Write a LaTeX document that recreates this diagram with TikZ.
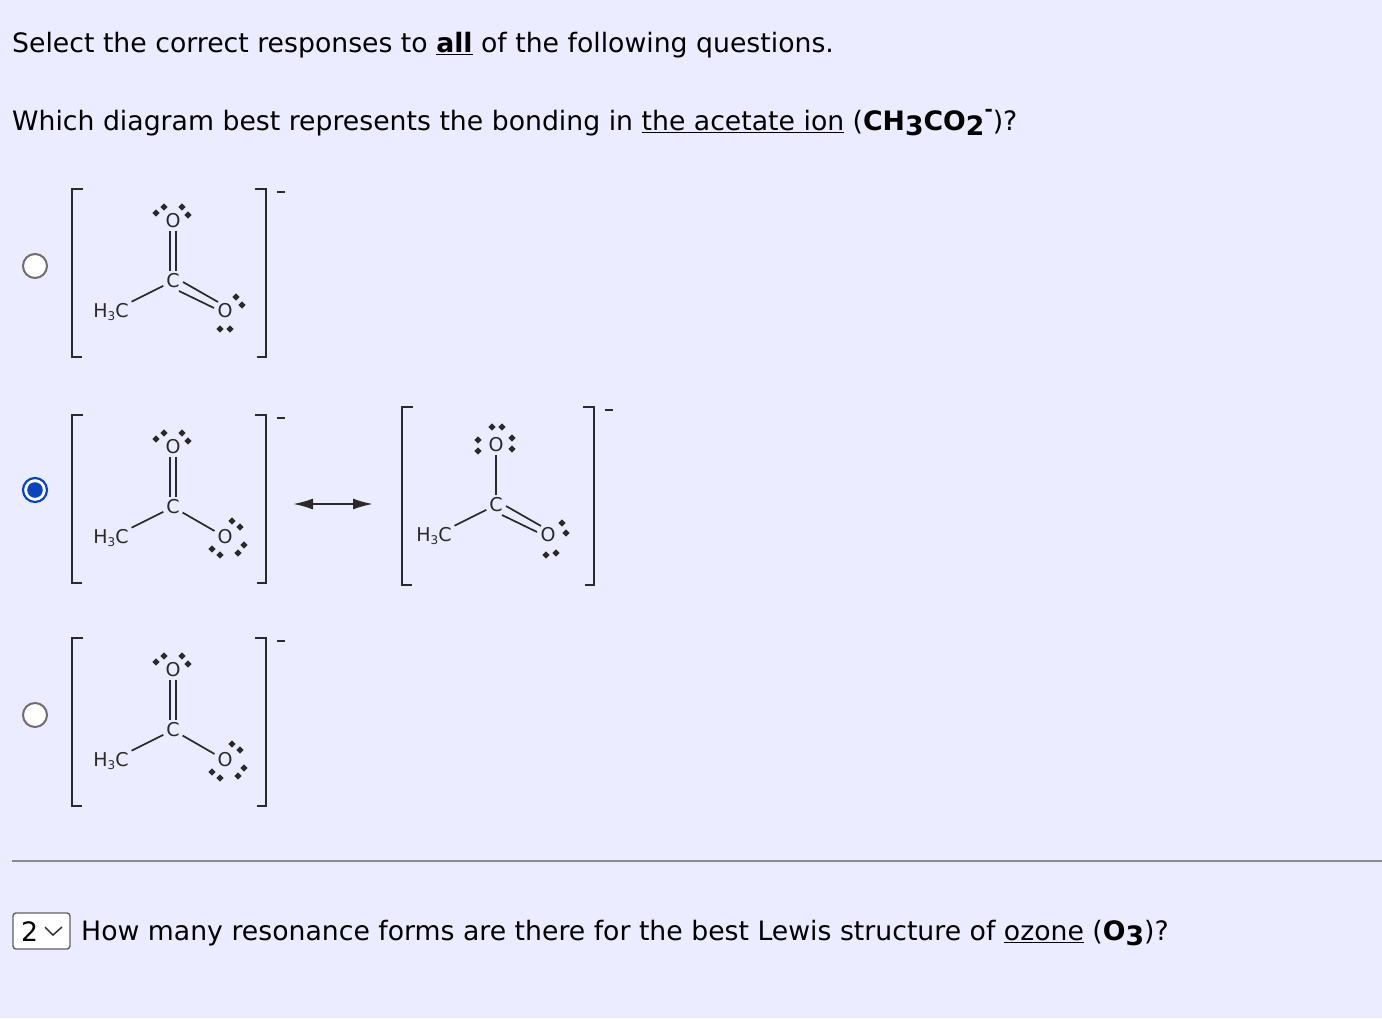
\documentclass[tikz,border=0pt]{standalone}
\usepackage{fontspec}
\setmainfont{DejaVu Sans}
\usetikzlibrary{arrows.meta}

\definecolor{pagebg}{HTML}{EBECFF}
\definecolor{inkgray}{HTML}{2A2A2A}
\definecolor{rulegray}{HTML}{8A8A8A}
\definecolor{radioblue}{HTML}{0B45B8}

\tikzset{
    x=1pt, y=-1pt,
    prose/.style={anchor=base west, inner sep=0pt, font=\fontsize{26.7}{32}\selectfont, text=black},
    atom/.style={inner sep=0pt, outer sep=3pt, font=\fontsize{19}{22}\selectfont, text=inkgray},
    bond/.style={draw=inkgray, line width=1.7pt},
    bracket/.style={draw=inkgray, line width=2.2pt},
    radio/.style={draw=rulegray!80!black, line width=2pt, fill=white},
}

\newcommand{\lowered}[1]{\raisebox{-0.22em}{#1}}
\newcommand{\methyl}{H\raisebox{-0.2em}{\fontsize{12}{12}\selectfont 3}C}

% brackets and charge: left x, right x, top y, bottom y
\newcommand{\anionbrackets}[4]{
    \draw[bracket] (#1+11,#3) -- (#1,#3) -- (#1,#4) -- (#1+10,#4);
    \draw[bracket] (#2-11,#3) -- (#2,#3) -- (#2,#4) -- (#2-9,#4);
    \draw[bracket] (#2+11,#3+3) -- (#2+19,#3+3);
}
% atoms of one form: name, x and y of the carbon
\newcommand{\acetateatoms}[3]{
    \node[atom] (c#1) at (#2,#3) {C};
    \node[atom] (ot#1) at (#2,#3-60) {O};
    \node[atom] (or#1) at (#2+52,#3+30) {O};
    \node[atom] (me#1) at (#2-62,#3+31) {\methyl};
    \draw[bond] (c#1) -- (me#1);
}
\newcommand{\lonepairs}[1]{
    \foreach \px/\py in {#1}
        \fill[inkgray] (\px,\py) +(-3.6,0) -- +(0,-3.6) -- +(3.6,0) -- +(0,3.6) -- cycle;
}
\newcommand{\doubletop}[1]{
    \draw[bond] ([xshift=-3pt]c#1.north) -- ([xshift=-3pt]ot#1.south);
    \draw[bond] ([xshift=3pt]c#1.north) -- ([xshift=3pt]ot#1.south);
}
\newcommand{\doubleright}[1]{
    \draw[bond] ([shift={(10,1)}]c#1.center) -- ([shift={(-7,-9)}]or#1.center);
    \draw[bond] ([shift={(6,10)}]c#1.center) -- ([shift={(-11,-3)}]or#1.center);
}

\begin{document}
\begin{tikzpicture}
    \useasboundingbox (0,0) rectangle (1382,1018);
    \fill[pagebg] (0,0) rectangle (1382,1018);

    % question text
    \node[prose] (first) at (12,52) {Select the correct responses to \textbf{\underline{all}} of the following questions.};
    \node[prose] (second) at (12,130) {Which diagram best represents the bonding in \underline{the acetate ion} (\textbf{CH\lowered{3}CO\lowered{2}\raisebox{0.5em}{\fontsize{20}{20}\selectfont -}})?};

    % radio buttons
    \draw[radio] (35,266) circle (12);
    \draw[radioblue, line width=2.2pt, fill=white] (35,490) circle (12);
    \fill[radioblue] (35,490) circle (7.8);
    \draw[radio] (35,715) circle (12);

    % first option
    \anionbrackets{72}{266}{189}{357}
    \acetateatoms{a}{173}{281}
    \doubletop{a}
    \doubleright{a}
    \lonepairs{156/213, 164/207, 182/207, 188/215}
    \lonepairs{236/297, 242/305, 220/329, 230/329}

    % second option
    \anionbrackets{72}{266}{415}{583}
    \acetateatoms{b}{173}{507}
    \doubletop{b}
    \draw[bond] (cb) -- (orb);
    \lonepairs{156/439, 164/433, 182/433, 188/441}
    \lonepairs{232/521, 240/527, 244/545, 238/553, 212/549, 220/555}

    \coordinate (arrowl) at (293,504);
    \coordinate (arrowr) at (373,504);
    \draw[bond, line width=2pt, {Latex[length=20pt,width=11pt]}-{Latex[length=20pt,width=11pt]}] (arrowl) -- (arrowr);

    \anionbrackets{402}{594}{407}{585}
    \acetateatoms{d}{496}{505}
    \draw[bond] (cd) -- (otd);
    \doubleright{d}
    \lonepairs{492/427, 502/427, 478/440, 478/451, 512/438, 512/449}
    \lonepairs{562/523, 566/533, 546/555, 556/553}

    % third option
    \anionbrackets{72}{266}{638}{806}
    \acetateatoms{c}{173}{730}
    \doubletop{c}
    \draw[bond] (cc) -- (orc);
    \lonepairs{156/662, 164/656, 182/656, 188/664}
    \lonepairs{232/744, 240/750, 244/768, 238/776, 212/772, 220/778}

    \draw[rulegray, line width=1.6pt] (12,861) -- (1382,861);

    % ozone question
    \draw[draw=rulegray!70!black, line width=1.4pt, fill=white, rounded corners=3pt] (13,913) rectangle (70,949);
    \node[prose] (answer) at (21,941) {2};
    \draw[inkgray, line width=1.4pt] (45,927) -- (53,935) -- (62,927);
    \node[prose] (third) at (81,940) {How many resonance forms are there for the best Lewis structure of \underline{ozone} (\textbf{O\lowered{3}})?};
\end{tikzpicture}
\end{document}
